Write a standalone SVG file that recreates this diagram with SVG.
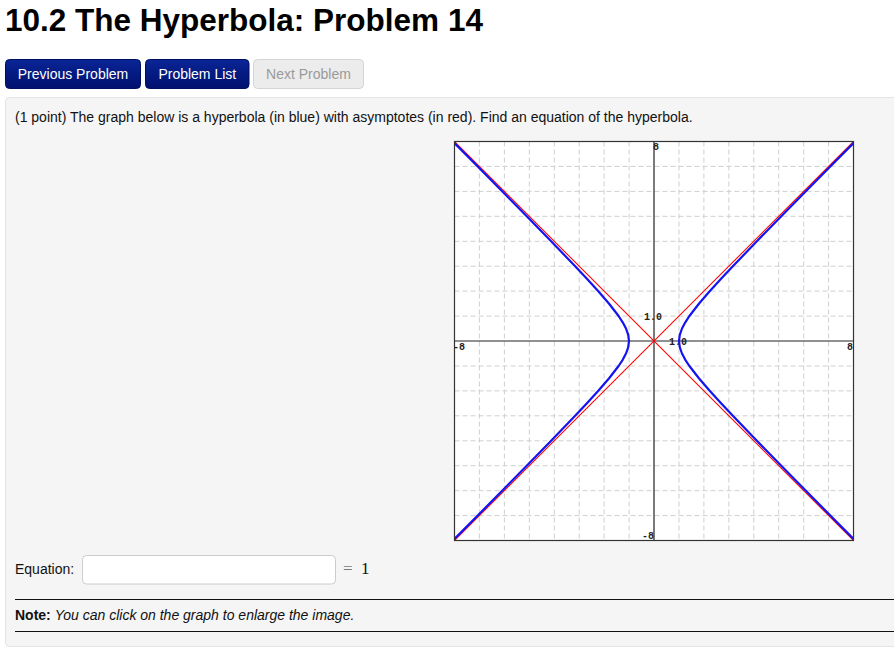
<svg xmlns="http://www.w3.org/2000/svg" width="894" height="653" viewBox="0 0 894 653">
<defs>
<linearGradient id="btn" x1="0" y1="0" x2="0" y2="1"><stop offset="0" stop-color="#0a2596"/><stop offset="1" stop-color="#00106e"/></linearGradient>
<clipPath id="frame"><rect x="454.5" y="141.5" width="399" height="399"/></clipPath>
<style>
.sans{font-family:"Liberation Sans",Arial,sans-serif}
.btxt{font-family:"Liberation Sans",Arial,sans-serif;font-size:14px;fill:#fff;text-anchor:middle}
.grid{stroke:#cfcfcf;stroke-width:1;stroke-dasharray:5 3;fill:none}
.axis{stroke:#222;stroke-width:1.2;fill:none}
.lbl{font-family:"Liberation Mono","DejaVu Sans Mono",monospace;font-size:10px;font-weight:bold;fill:#222}
.hyp{fill:none;stroke:#1414f0;stroke-width:2.2;stroke-linejoin:round}
.asym{stroke:#ff0000;stroke-width:1.1;fill:none}
</style>
</defs>
<rect width="894" height="653" fill="#fff"/>
<text x="5" y="31" class="sans" font-size="31.5" font-weight="bold" fill="#000">10.2 The Hyperbola: Problem 14</text>

<g id="btn-prev"><rect x="5.5" y="59.5" width="135" height="29" rx="4" fill="url(#btn)" stroke="#001060"/><text x="73" y="79" class="btxt">Previous Problem</text></g>
<g id="btn-list"><rect x="145.5" y="59.5" width="103.5" height="29" rx="4" fill="url(#btn)" stroke="#001060"/><text x="197.3" y="79" class="btxt">Problem List</text></g>
<g id="btn-next"><rect x="253.5" y="59.5" width="110" height="29" rx="4" fill="#ececec" stroke="#d4d4d4"/><text x="308.5" y="79" class="btxt" style="fill:#9a9a9a">Next Problem</text></g>

<rect x="5.5" y="97.5" width="900" height="549" rx="4" fill="#f5f5f5" stroke="#e3e3e3"/>
<text x="15" y="122" class="sans" font-size="14" fill="#111">(1 point) The graph below is a hyperbola (in blue) with asymptotes (in red). Find an equation of the hyperbola.</text>

<g id="graph">
<rect x="454.5" y="141.5" width="399" height="399" fill="#fff"/>
<g class="grid">
<path d="M479.4 141.5V540.5M504.4 141.5V540.5M529.3 141.5V540.5M554.3 141.5V540.5M579.2 141.5V540.5M604.1 141.5V540.5M629.1 141.5V540.5M679 141.5V540.5M703.9 141.5V540.5M728.8 141.5V540.5M753.8 141.5V540.5M778.7 141.5V540.5M803.7 141.5V540.5M828.6 141.5V540.5"/>
<path d="M454.5 166.4H853.5M454.5 191.4H853.5M454.5 216.3H853.5M454.5 241.3H853.5M454.5 266.2H853.5M454.5 291.1H853.5M454.5 316.1H853.5M454.5 366H853.5M454.5 390.9H853.5M454.5 415.8H853.5M454.5 440.8H853.5M454.5 465.7H853.5M454.5 490.7H853.5M454.5 515.6H853.5"/>
</g>
<g clip-path="url(#frame)">
<path class="axis" d="M654 141.5V540.5M454.5 341H853.5"/>
<path class="asym" d="M454 541L854 141"/>
<path class="asym" d="M854 541L454 141"/>
<polyline class="hyp" points="855.6,141 830.8,166 806.1,191 781.5,216 757.1,241 733.1,266 721.3,278.5 709.9,291 699.1,303.5 689.4,316 685.3,322.3 682,328.5 679.8,334.8 679,341 679.8,347.3 682,353.5 685.3,359.8 689.4,366 699.1,378.5 709.9,391 721.3,403.5 733.1,416 757.1,441 781.5,466 806.1,491 830.8,516 855.6,541"/>
<polyline class="hyp" points="452.4,141 477.2,166 501.9,191 526.5,216 550.9,241 574.9,266 586.7,278.5 598.1,291 608.9,303.5 618.6,316 622.7,322.3 626,328.5 628.2,334.8 629,341 628.2,347.3 626,353.5 622.7,359.8 618.6,366 608.9,378.5 598.1,391 586.7,403.5 574.9,416 550.9,441 526.5,466 501.9,491 477.2,516 452.4,541"/>
</g>
<rect x="454.5" y="141.5" width="399" height="399" fill="none" stroke="#333" stroke-width="1.2"/>
<text x="653" y="150" class="lbl">8</text>
<text x="453" y="350" class="lbl">-8</text>
<text x="847" y="350" class="lbl">8</text>
<text x="642" y="539" class="lbl">-8</text>
<text x="644" y="320" class="lbl">1.0</text>
<text x="669" y="345" class="lbl">1.0</text>
</g>

<text x="15" y="574" class="sans" font-size="14" fill="#111">Equation:</text>
<rect x="82.5" y="555.5" width="253" height="28.5" rx="4" fill="#fff" stroke="#ccc"/>
<text x="343" y="574" font-family="'Liberation Serif','Times New Roman',serif" font-size="17" fill="#777">=</text>
<text x="361" y="574" font-family="'Liberation Serif','Times New Roman',serif" font-size="17" fill="#111">1</text>
<line x1="15" y1="599.5" x2="894" y2="599.5" stroke="#111"/>
<text x="15" y="620" class="sans" font-size="14" fill="#111"><tspan font-weight="bold">Note:</tspan> <tspan font-style="italic">You can click on the graph to enlarge the image.</tspan></text>
<line x1="15" y1="631.5" x2="894" y2="631.5" stroke="#111"/>
</svg>
